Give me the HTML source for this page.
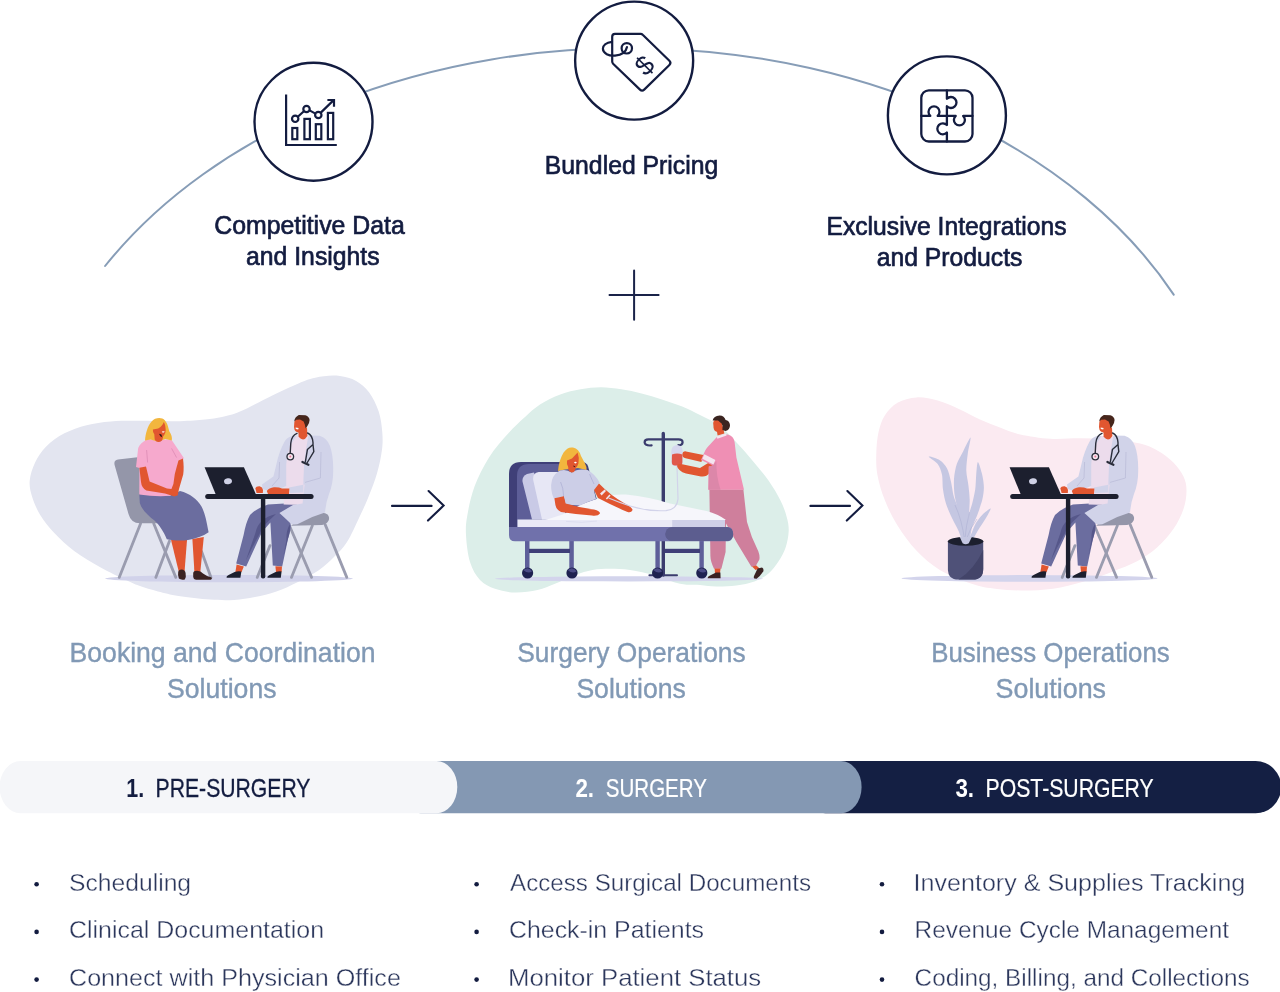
<!DOCTYPE html>
<html lang="en"><head><meta charset="utf-8"><title>Surgery workflow solutions</title>
<style>
html,body{margin:0;padding:0;background:#fff;}
body{width:1280px;height:992px;overflow:hidden;font-family:"Liberation Sans",sans-serif;}
svg{display:block;font-family:"Liberation Sans",sans-serif;will-change:transform;}
</style></head><body>
<svg width="1280" height="992" viewBox="0 0 1280 992">
<rect width="1280" height="992" fill="#fff"/>

<g id="top" fill="none" stroke-linecap="round" stroke-linejoin="round">
<path d="M105.1 266 A603.9 433.7 0 0 1 1173.7 294.6" stroke="#879db7" stroke-width="2"/>
<circle cx="313.5" cy="121.7" r="59" fill="#fff" stroke="#131c40" stroke-width="2.4"/>
<circle cx="634.15" cy="60.6" r="59" fill="#fff" stroke="#131c40" stroke-width="2.4"/>
<circle cx="946.9" cy="115.4" r="59" fill="#fff" stroke="#131c40" stroke-width="2.4"/>
<!-- chart icon -->
<g stroke="#131c40" stroke-width="2.2" stroke-linecap="butt" stroke-linejoin="miter">
<path d="M286.1 94.6 V145 H336.8"/>
<rect x="292.3" y="128" width="5" height="11.2"/>
<rect x="304.4" y="118.9" width="5.5" height="20.3"/>
<rect x="315.8" y="124.2" width="5.5" height="15"/>
<rect x="327.9" y="112.9" width="5.3" height="26.3"/>
<path d="M297.8 116.8 L303.9 111.2 M309.6 110.4 L315.4 113.6 M320.8 112.6 L333.4 100.4 M327.4 100 H334 V106.8"/>
<circle cx="295.2" cy="118.8" r="3.2"/>
<circle cx="306.5" cy="109" r="3.2"/>
<circle cx="318.3" cy="115" r="3.2"/>
</g>
<!-- price tag icon -->
<g stroke="#131c40" stroke-width="2.2">
<path d="M615 33.9 H640.6 a3 3 0 0 1 2.1 0.9 L669.4 60.8 a3 3 0 0 1 0 4.2 L644.2 89.6 a3 3 0 0 1 -4.2 0 L613.1 63.7 a3 3 0 0 1 -0.9 -2.1 V36.7 a2.8 2.8 0 0 1 2.8 -2.8 Z"/>
<circle cx="626.8" cy="48.3" r="5.2"/>
<path d="M612 41.8 C606 42.5 602.8 45.5 602.9 48.8 C603 53.5 609 56.2 615 55.6 C621 55 626 52 627 47"/>
</g>
<text x="0" y="0" font-size="27" fill="#131c40" text-anchor="middle" transform="translate(644.6 65.4) rotate(-45) translate(0 9.2)" stroke="none">$</text>
<!-- puzzle icon -->
<g stroke="#131c40" stroke-width="2.3">
<rect x="921.3" y="90.3" width="51.2" height="51.2" rx="7.5"/>
<path d="M946.9 90.3 V98.8 A5.5 5.5 0 1 1 946.9 106.2 V115.9 V125.1 A5.5 5.5 0 1 0 946.9 132.5 V141.5"/>
<path d="M921.3 115.9 H930.3 A5.5 5.5 0 1 1 937.7 115.9 H946.9 H955.7 A5.5 5.5 0 1 0 963.1 115.9 H972.5"/>
</g>
<!-- plus -->
<path d="M609.5 294.9 H658.6 M634.1 270.5 V319.7" stroke="#1a2349" stroke-width="2" stroke-linecap="round"/>
<!-- arrows -->
<g stroke="#131c40" stroke-width="2.1" stroke-linecap="round" stroke-linejoin="miter">
<path d="M392 505.9 H431.6 M428.6 491 L443.6 505.6 L428 520.6"/>
<path d="M810.4 505.9 H850 M847.4 491 L862.4 505.6 L846.8 520.6"/>
</g>
</g>

<g id="ill1">
<!-- blob -->
<path d="M29.7 480.7 C30.2 475.0 32.4 468.2 35.1 462.5 C37.9 456.8 41.3 451.3 46.2 446.4 C51.1 441.5 57.7 436.8 64.4 433.3 C71.1 429.8 78.9 427.2 86.6 425.2 C94.3 423.2 101.9 422.1 110.8 421.4 C119.7 420.7 128.5 420.8 140.0 420.8 C151.5 420.8 169.2 421.4 180.0 421.2 C190.8 421.0 198.0 420.3 205.0 419.6 C212.0 418.9 216.2 418.3 222.0 417.0 C227.8 415.7 231.6 415.2 240.0 411.6 C248.4 408.0 261.6 400.6 272.3 395.5 C283.1 390.4 295.9 384.2 304.5 381.0 C313.1 377.8 318.0 377.1 323.9 376.3 C329.8 375.5 334.6 375.3 340.0 376.1 C345.4 376.9 351.3 378.3 356.1 381.0 C360.9 383.7 365.2 387.2 369.0 392.3 C372.8 397.4 376.5 404.9 378.7 411.6 C380.9 418.3 381.8 426.2 382.3 432.6 C382.8 439.1 382.8 443.6 381.9 450.3 C381.0 457.0 379.4 465.1 377.1 472.9 C374.9 480.7 371.4 489.6 368.4 497.1 C365.4 504.6 362.6 510.5 359.0 518.0 C355.4 525.5 351.2 535.6 347.0 542.1 C342.8 548.6 338.7 552.3 334.0 557.0 C329.3 561.7 324.8 566.1 318.8 570.3 C312.8 574.5 305.1 578.5 298.0 582.0 C290.9 585.5 283.6 589.0 276.4 591.5 C269.2 594.0 262.1 595.6 255.0 597.0 C247.9 598.4 241.6 599.6 234.1 600.0 C226.6 600.4 219.2 600.3 210.0 599.6 C200.8 598.9 187.3 597.4 178.6 596.0 C169.9 594.6 164.6 593.2 158.0 591.5 C151.4 589.8 144.8 587.8 139.3 585.8 C133.8 583.8 131.3 582.6 124.9 579.5 C118.5 576.4 109.1 572.1 100.7 567.4 C92.3 562.7 82.2 557.0 74.5 551.3 C66.8 545.6 60.0 539.1 54.3 533.1 C48.6 527.1 43.9 521.0 40.2 515.0 C36.5 508.9 33.9 502.5 32.1 496.8 C30.4 491.1 29.2 486.4 29.7 480.7 Z" fill="#e3e5f0"/>
<!-- shadow -->
<ellipse cx="229" cy="578.6" rx="124" ry="3.6" fill="#d1d2ea"/>
<!-- chair (woman) -->
<g stroke="#9a9caf" stroke-width="2.8" stroke-linecap="round" fill="none">
<path d="M140.6 523.5 L119.2 577.4"/>
<path d="M153.7 523.5 L175.8 577.4"/>
<path d="M169.5 541 L155.8 577.4"/>
<path d="M201.6 551.5 L211 577.4"/>
</g>
<path d="M118 459.5 Q113.5 460 114.6 465 L128.5 514 Q131 523.3 140 523.3 L166 523.3 L150 480 L137.5 457.2 Z" fill="#9496a9"/>
<!-- woman legs -->
<path d="M170.8 539 L187 540 L184.6 571 L178.6 571 Z" fill="#e15630"/>
<path d="M192.4 539 L203.8 537 L200.3 572 L194.4 572 Z" fill="#e15630"/>
<path d="M178.2 572 Q178.5 569.6 181.5 569.4 Q185 569.4 185.6 573 Q186.4 577 184.8 579.4 Q181 580.2 178.9 578.6 Q177.6 575.5 178.2 572 Z" fill="#3a2222"/>
<path d="M193.2 573 Q193.5 570.8 197 570.8 Q201 570.8 203 573.4 Q207 576.4 211.6 577.6 Q212.6 579.4 210.6 579.8 L196 579.8 Q193.4 579.4 193.2 577 Z" fill="#3a2222"/>
<!-- skirt -->
<path d="M139.3 494 L170 495.5 L180 491 C190 493.5 197 499 201.5 506.5 C205 513 206.5 521 208.6 532.2 C203 536 196 538.8 188 540 C181 541 173 540.4 166.8 539.2 C164 532 159 524.5 154.5 520.5 C148 515.5 142 510 139.8 503 Z" fill="#6b6d9f"/>
<!-- woman shirt -->
<path d="M146 440 C143 441.5 139.5 444.5 138.2 448 L136 467 L139.4 468 L139.3 494.4 Q155 497 170.5 495.8 L176 480 L178 461 L184 458.2 L172 440.4 Q165 438.4 158.5 441.5 Q152 438.6 146 440 Z" fill="#f6a9cd"/>
<path d="M146.6 450 L147.6 462.5 M171.6 448.4 L176.6 457.6" stroke="#d987b0" stroke-width="0.7" fill="none"/>
<!-- woman arms -->
<path d="M139.4 467.8 L146 466.6 L149.6 481.6 L167 488.6 L176 489.6 L178 494.6 L174.6 496.6 L165 493.6 L146.4 490.4 Q141.6 488 141 482 Z" fill="#e15630"/>
<path d="M178.4 460.4 L183 458.6 Q184.2 468 183.2 474.4 L179 489 L177.6 495.4 L173 495.8 L170.4 491.4 L173.4 484 L174.8 474 Z" fill="#e15630"/>
<!-- hair -->
<path d="M145 440.4 C145.6 433 147.6 426 151.6 421.4 C155 417.6 161.6 416.8 165 420.4 C168 424 168.4 428.6 169.4 431.4 C171.4 434.4 172.4 437 171.8 440.6 L165.4 439 L158 441.8 L150.6 439.4 Z" fill="#f2b63e"/>
<!-- face -->
<path d="M152.9 429.6 L158.2 428.6 Q161.4 426.6 162.6 424.6 L163.9 421.9 Q165.2 424.6 165.4 427 Q166 430.6 165.4 432.4 Q164.6 434.6 163.2 436.2 Q163 438.6 162 440.4 Q160.4 442 158.2 442 Q155.6 441.4 154.7 439.4 L154.3 434.3 Q152.6 432.6 152.9 429.6 Z" fill="#e15630"/>
<path d="M159 433.8 L161.4 434.6 L162.2 437.2 L160.4 436.2 Z" fill="#241616"/>
<path d="M161.8 431.4 L164.6 431.2 L164 432.6 L162.4 432.6 Z" fill="#fff"/>
<g id="doc">
<!-- doctor stool -->
<g stroke="#9a9caf" stroke-width="2.8" stroke-linecap="round" fill="none">
<path d="M289.6 526 L311.6 577.4"/>
<path d="M312.4 525.4 L291.4 577.4"/>
<path d="M325.2 524.6 L346.8 577.4"/>
<path d="M270 545.6 L257.2 577.4"/>
</g>
<path d="M291 525.8 Q300 518 316 513.6 Q324 511.4 327.6 514.4 Q330.4 518 328 521.6 Q326.4 524.6 322 525 Z" fill="#9496a9"/>
<!-- doctor pants -->
<path d="M284.6 503.4 L268 504.6 Q256 508.6 250 515 Q246 522 243.6 535 L236.2 563.6 L246.2 566.4 L256 545 L262 532 L270.4 522.6 L272.8 565.6 L282.2 566.4 L288 539 Q291.6 528 290.4 523.4 L302 512 L296 503 Z" fill="#6b6d9f"/>
<path d="M262 521 Q257 525 255.4 533 L246 560 L252 548 L259.6 534 Q262.4 527 268.6 521 L276 514 Q267 516 262 521 Z" fill="#56578a"/>
<path d="M290 524 Q286 530 286.4 540 L283.4 556 L287.6 540 Q291 529 290 524 Z" fill="#56578a"/>
<!-- socks & shoes -->
<path d="M236.6 564.6 L243.8 566.4 L241.6 572 L235.4 572 Z" fill="#e15630"/>
<path d="M275.4 566.2 L282 566.4 L281.6 572 L276 572 Z" fill="#e15630"/>
<path d="M226.6 577.8 Q226 576.2 228.6 575 L234.6 572 Q238 571 241.4 571.6 L240.4 577.8 Z" fill="#1c1f2e"/>
<path d="M267.4 577.8 Q267 576.2 269.6 575 L275.6 572 Q279 571 281.6 571.4 L280.8 577.8 Z" fill="#1c1f2e"/>
<!-- table leg -->
<rect x="260.9" y="496" width="4.4" height="82.4" rx="2" fill="#1c1f2e"/>
<!-- doctor shirt -->
<path d="M295 436 L310 436.6 L306 484 L303 505 L283.6 504.4 L285.6 484 L285.8 465 Q286.6 452 290.6 444 Z" fill="#ecdcec"/>
<!-- coat -->
<path d="M293.6 435.6 Q287 437 284.6 441.6 Q279 452 276.6 463.6 L273.4 476.6 L262 484.6 L262.6 489 L272 492 L286.2 486 L286.2 465 Q287 452 291.2 444 L296.6 435.8 Z" fill="#d1d3e9"/>
<path d="M308.4 435.4 L319.6 435.8 Q327 438 330 446 Q333.4 456 333.2 470 Q333.4 483 329 494 Q326 502 325 512.6 Q312 516.4 300 523 Q295 526 290.6 523.4 Q286 519 279.4 513 L293 505 L302.6 503.6 L304.6 484.6 L289 487.4 L290 493 L303.4 492.6 L303.4 481 L304 466 L305.6 452 Z" fill="#d1d3e9"/>
<path d="M279.6 462 L279 478 L272 486" stroke="#b3b6d3" stroke-width="0.6" fill="none"/>
<path d="M321 452 L320.4 478 L305 482.4" stroke="#b3b6d3" stroke-width="0.6" fill="none"/>
<!-- neck/face/hair -->
<path d="M298.4 430 L307 427.6 L307.4 436 Q303.6 442.4 298.6 436.8 Z" fill="#e15630"/>
<path d="M294.2 424 Q294 419.6 298 418.4 L305 419.6 L306.4 426 Q306 431.6 301.6 432.6 Q296.4 433 294.6 430 Q293.6 427 294.2 424 Z" fill="#e15630"/>
<path d="M294.2 421.4 Q294.8 417 298.8 415 L305.4 415.2 Q309.4 416.6 309.6 420 Q309.4 423.6 307.4 426 L305.6 428.4 L304.8 424.6 L303.6 421.6 L300 419.6 L296.4 419.8 Z" fill="#46261c"/>
<path d="M295.6 427.6 L298.6 428 L298.2 429.4 L295.8 429 Z" fill="#fff"/>
<!-- stethoscope -->
<g stroke="#2a2d3a" fill="none" stroke-width="1.4" stroke-linecap="round" stroke-linejoin="round">
<path d="M297 433.4 Q291.6 435.4 290.8 443 L290.2 453"/>
<path d="M307.6 433 Q312.4 435 313 442.6 L313 444.6 L307.4 449.6 L305.4 461.6 M313 444.6 L313.8 451.6 L307 463"/>
<path d="M302.4 462 L308.4 464.8" stroke-width="2.2"/>
</g>
<circle cx="290.3" cy="456.6" r="3.3" fill="#f6e6ee" stroke="#2a2d3a" stroke-width="1.3"/>
<circle cx="290.3" cy="456.6" r="1" fill="#e9799a"/>
<!-- hands -->
<path d="M255.4 488.6 Q256 486 259.6 486.2 Q262.6 487 263 490 L262.8 493 L256.6 493 Z" fill="#e15630"/>
<path d="M266.8 491 Q269 487.6 274 487.2 Q279 487 282 488.4 L289.4 488.6 L289 494 L268 494 Z" fill="#e15630"/>
<!-- laptop -->
<path d="M204.6 467.2 L243.9 467.2 L256.2 495 L216 495 Z" fill="#1c1f2e"/>
<ellipse cx="228" cy="481.2" rx="4" ry="3" fill="#cfd1e6" transform="rotate(-8 228 481.2)"/>
<!-- table top -->
<rect x="205.2" y="494" width="108.4" height="5" rx="2.5" fill="#1c1f2e"/>
</g>
</g>

<g id="ill2">
<path d="M466.0 535.0 C465.6 527.2 465.9 523.6 467.3 515.5 C468.7 507.4 470.9 496.2 474.5 486.5 C478.1 476.8 483.4 466.3 489.0 457.4 C494.6 448.5 502.4 439.9 508.4 433.2 C514.4 426.5 519.7 421.8 525.0 417.0 C530.3 412.2 534.1 408.3 540.0 404.5 C545.9 400.7 553.5 396.9 560.3 394.4 C567.1 391.9 573.8 390.5 580.6 389.3 C587.4 388.1 594.1 387.3 600.9 387.3 C607.7 387.3 614.5 388.3 621.3 389.3 C628.1 390.3 634.8 391.7 641.6 393.4 C648.4 395.1 655.1 397.3 661.9 399.5 C668.7 401.7 675.9 404.0 682.2 406.6 C688.6 409.2 693.7 411.8 700.0 415.1 C706.3 418.4 714.2 421.7 720.2 426.2 C726.2 430.7 730.9 436.6 736.3 442.3 C741.7 448.0 747.0 454.1 752.4 460.5 C757.8 466.9 763.8 473.9 768.5 480.6 C773.2 487.3 777.6 494.8 780.6 500.8 C783.6 506.9 785.4 511.9 786.7 516.9 C788.1 521.9 788.9 526.0 788.7 531.0 C788.5 536.0 787.4 542.2 785.7 547.2 C784.0 552.2 781.5 556.9 778.6 561.3 C775.7 565.7 772.5 570.0 768.5 573.4 C764.5 576.8 759.8 579.5 754.4 581.5 C749.0 583.5 742.7 584.7 736.3 585.5 C729.9 586.3 722.1 586.6 716.1 586.5 C710.1 586.4 706.0 585.5 700.0 585.0 C694.0 584.5 687.5 585.4 680.0 583.8 C672.5 582.2 663.3 577.8 655.0 575.5 C646.7 573.2 637.5 571.1 630.0 570.0 C622.5 568.9 616.2 568.8 610.0 568.8 C603.8 568.8 598.3 569.0 592.5 570.0 C586.7 571.0 581.2 572.7 575.0 575.0 C568.8 577.3 561.2 581.3 555.0 583.8 C548.8 586.3 544.2 588.5 537.5 590.0 C530.8 591.5 522.1 592.7 515.0 592.5 C507.9 592.3 500.8 590.9 495.0 588.8 C489.2 586.7 484.2 584.5 480.0 580.0 C475.8 575.5 472.3 569.5 470.0 562.0 C467.7 554.5 466.4 542.8 466.0 535.0 Z" fill="#dceee9"/>
<ellipse cx="629" cy="578.8" rx="134" ry="2.6" fill="#d3d4ec"/>
<!-- IV pole -->
<g stroke="#3b3c6e" fill="none" stroke-linecap="round">
<path d="M663.3 433.4 V575" stroke-width="3.4"/>
<path d="M651.6 445.4 Q645 446 644.6 442.4 Q644.6 439.4 648.4 439.4 H678.6 Q682.6 439.4 682.6 442.4 Q682.2 445.6 678.4 445.2" stroke-width="2.2"/>
<path d="M649.4 575.2 H677" stroke-width="2"/>
</g>
<!-- bed legs -->
<g fill="#5e5f9a">
<rect x="525" y="540" width="4.5" height="29"/><rect x="569.3" y="540" width="4.5" height="29"/>
<rect x="655.4" y="540" width="4.4" height="29"/><rect x="699.4" y="540" width="4.4" height="29"/>
</g>
<g fill="#3f3f78">
<rect x="529" y="548.8" width="41" height="4.2"/><rect x="665" y="548.8" width="35" height="4.2"/>
</g>
<g fill="#1e2150">
<circle cx="527.6" cy="573" r="5.6"/><circle cx="572" cy="573" r="5.6"/><circle cx="657.6" cy="573" r="5.6"/><circle cx="701.8" cy="573" r="5.6"/>
</g>
<g fill="#4a4b85">
<path d="M523.5 570.2 A5 5 0 0 1 532 571.4 Q528 574 523.5 570.2 Z"/><path d="M567.9 570.2 A5 5 0 0 1 576.4 571.4 Q572.4 574 567.9 570.2 Z"/><path d="M653.5 570.2 A5 5 0 0 1 662 571.4 Q658 574 653.5 570.2 Z"/><path d="M697.7 570.2 A5 5 0 0 1 706.2 571.4 Q702.2 574 697.7 570.2 Z"/>
</g>
<!-- nurse legs (behind bed) -->
<path d="M709.4 489.6 L743.4 489.6 L747 522 Q751 537 758.4 551.6 Q760 556 759.4 559.6 L755.6 566.2 L751.4 566.8 L737 543 L726 523.4 L725.6 552 L721.4 568.8 L714 568.8 Q710.4 561 710.4 556 Z" fill="#cf7f9c"/>
<path d="M714.6 568.4 L720.6 568.4 L720 573 L715 573 Z" fill="#e15630"/>
<path d="M752 566.4 L756.4 565.4 L759.6 568.4 L755.6 570 Z" fill="#e15630"/>
<path d="M707.6 578.2 Q707.4 576.4 710 575.4 L716 572.4 L720.4 572.4 L720.6 578.2 Z" fill="#3a2222"/>
<path d="M754.4 578.6 Q753.4 578 754 576 L757.6 568.6 L762 567.4 Q764.2 568.6 763.2 571.6 Q760.4 576 756.6 578.8 Z" fill="#3a2222"/>
<!-- headboard -->
<path d="M509 474 Q509 462 521 462 H582 Q586 462 588 466 L604 527 H509 Z" fill="#3f3f78"/>
<path d="M517 476 Q517 464 529 464 H581 Q584.6 464 586.4 467.4 L601 527 H517 Z" fill="#5d5e98"/>
<!-- frame -->
<path d="M509 526.9 H728 Q733 527 733 534 Q733 541.3 728 541.3 H515 Q509 541.3 509 535 Z" fill="#7071ab"/>
<rect x="665.4" y="527.2" width="67.8" height="13.8" rx="6.9" fill="#5c5d8f"/>
<!-- pillows -->
<path d="M522.6 482 Q521.6 476.6 527 474 L534 472.4 L548 519.4 L532 519.4 Z" fill="#c9cae6"/>
<path d="M533.2 480 Q532.4 473 538.6 472 H560 L566 519.4 H542 Z" fill="#e7e7f5"/>
<!-- mattress -->
<path d="M517.5 519.4 H725 V526.9 H517.5 Z" fill="#e9e9f6"/>
<path d="M672.2 519.4 H725 V526.9 H672.2 Z" fill="#cfd0e8"/>
<!-- frame pill over legs -->
<rect x="665.4" y="527.2" width="67.8" height="13.8" rx="6.9" fill="#5c5d8f"/>
<!-- blanket -->
<path d="M545 520 Q554 517.6 562.5 514.6 Q572 510 580 505 Q588 501.6 595 499.4 Q604 496.4 612.5 495 Q620 494 626 494.6 Q650 497 670 503.6 L706.6 511 Q718 514 726 520 Z" fill="#f6f6fb"/>
<path d="M566 521.4 Q582 523.4 597 521" stroke="#d9daee" stroke-width="0.8" fill="none"/>
<!-- hair -->
<path d="M558 471 Q559 460 563.6 452.6 Q567.6 446.6 573 447.6 Q579 449 581 456 L585 463.6 Q587 467 586.4 470 L578 468 L565 469.6 Z" fill="#f2b63e"/>
<!-- gown -->
<path d="M560 470.6 Q566 468.6 571.6 472.6 Q578 468 587.6 470 Q595 474 599.6 482.6 L594 490.6 L596 499 Q588 501.6 580 505.4 L565.4 504.4 L563.6 496.4 L553.8 498.4 Q549.6 489 552 480 Q554 473.6 560 470.6 Z" fill="#cccee7"/>
<path d="M560.6 482 Q563.4 488 563.6 496 M589.6 474 Q591.6 479 594 484" stroke="#abaed2" stroke-width="0.7" fill="none"/>
<!-- face -->
<path d="M567 460.4 L572 458.6 L577.6 452.6 Q579.6 458 578.4 463.6 Q577.4 467 575.4 468.4 Q575.4 472 571.6 472.6 Q567.8 471.6 568.2 467 Q566.4 464 567 460.4 Z" fill="#e15630"/>
<ellipse cx="575.4" cy="462.6" rx="1.3" ry="0.8" fill="#fff"/>
<path d="M573 465.4 L575.4 466.4 L574.2 467.2 Z" fill="#2a1a1a"/>
<!-- patient arms -->
<path d="M554.4 498.2 L563.8 496.2 L565.6 503.6 Q580 508 594 509.6 Q600 511 600 513.4 Q598 516.4 592 515.6 Q575 514 561 512 Q556.4 510 555.4 505 Z" fill="#e15630"/>
<path d="M594 490 L599 483.6 Q611 496 624 503 Q632 507 632.6 510 Q631 513.4 627 511.8 Q612 505.4 598 498 Z" fill="#e15630"/>
<path d="M600 493.6 L604.6 489.4 L606 491 L601.6 495.4 Z M605.8 498.6 L609.4 494.6 L610.6 495.6 L607 499.6 Z" fill="#f1e6ee"/>
<!-- IV bag & tube -->
<path d="M677 466 Q677.6 486 678 499 Q677 509.6 666 510.6 Q648 511.6 630 506 Q618 502 608.6 498" stroke="#d2d3ea" stroke-width="1.2" fill="none"/>
<path d="M673 446.6 Q677 443.6 681 446.6 Q683 449 682.6 454 L682.6 462 Q682.6 466 679 466 H675 Q671.4 466 671.4 462 L671.4 454 Q671 449 673 446.6 Z" fill="#d6d7ee"/>
<path d="M672 454.4 Q677 452.6 682.4 454.4 L682.4 462 Q682.4 465.6 679 465.6 H675 Q671.8 465.6 671.8 462 Z" fill="#e0574a"/>
<!-- nurse arms -->
<path d="M682.4 454.4 Q682.6 451 686 451.4 L703.4 455 L701.4 462 L685.6 458.2 Q682.2 457.6 682.4 454.4 Z" fill="#e15630"/>
<path d="M677 466 Q677.4 463.6 681 464 L700 468 L710.6 461.4 L714.4 465 L709.6 473 Q706 477.4 701 476.4 L686 473.6 Q678 471 677 466 Z" fill="#e15630"/>
<!-- nurse top -->
<path d="M716.4 437.6 Q721 434 727.6 434.6 Q733.6 436 734.6 442 L736.4 457.6 L744 489.8 H708.4 L708.8 466.4 L712.8 465.6 L701 460 L703.4 454.6 Q706 448 710 444.6 Z" fill="#ef8fb4"/>
<path d="M708.8 466.4 L712.8 465.6 L716.4 461 Q716 476 720.6 489.8 H708.4 Z" fill="#dc87a9"/>
<path d="M704.4 454.2 L715.4 460 L713.4 464.6 L702.4 458.8 Z" fill="#f4e6f0"/>
<path d="M716.8 436.6 L726 433.6 L726.6 435.6 L717.4 438.8 Z" fill="#f4e6f0"/>
<!-- nurse head -->
<path d="M716.4 428 L722.6 426 L724.4 433.6 L717.6 435.6 Z" fill="#e15630"/>
<path d="M713.2 423 Q713.4 420 717 419.6 L721.6 421 L722.6 428 Q721.6 432 717.6 432 Q714 431.6 713.6 428 Z" fill="#e15630"/>
<path d="M712.6 420.4 Q713.6 416 719.6 415.4 Q724.4 415.6 725.6 420 Q729.4 420.6 730 425 Q730 430 725.6 431 L722.4 430 Q723.4 426 721.6 423.6 L718 420.4 Z" fill="#3a2420"/>
</g>
<g id="ill3">
<path d="M876.3 453.5 C876.5 446.4 877.1 438.7 878.5 432.3 C879.9 425.9 881.6 420.3 884.8 415.4 C888.0 410.5 892.2 405.7 897.5 402.7 C902.8 399.7 909.9 397.8 916.6 397.4 C923.3 397.0 930.7 398.7 937.7 400.6 C944.8 402.5 951.9 405.8 958.9 409.0 C965.9 412.2 973.0 416.4 980.0 419.6 C987.0 422.8 994.5 425.6 1001.2 428.1 C1007.9 430.6 1012.0 432.7 1020.2 434.5 C1028.4 436.3 1040.3 438.2 1050.4 438.8 C1060.5 439.4 1070.7 438.2 1080.6 438.3 C1090.5 438.4 1100.2 438.7 1110.0 439.5 C1119.8 440.3 1131.2 441.5 1139.1 443.3 C1147.0 445.1 1151.6 447.2 1157.3 450.4 C1163.0 453.6 1169.0 458.1 1173.4 462.5 C1177.8 466.9 1181.3 471.9 1183.5 476.6 C1185.7 481.3 1186.5 485.3 1186.5 490.7 C1186.5 496.1 1185.7 502.5 1183.5 508.9 C1181.3 515.3 1177.8 522.6 1173.4 529.0 C1169.0 535.4 1163.3 541.8 1157.3 547.2 C1151.2 552.6 1144.5 557.3 1137.1 561.3 C1129.7 565.3 1120.8 568.4 1112.9 571.4 C1105.1 574.4 1098.7 576.8 1090.0 579.5 C1081.3 582.2 1070.5 585.7 1060.5 587.5 C1050.5 589.3 1040.8 590.3 1030.2 590.5 C1019.6 590.7 1006.8 590.0 997.0 588.9 C987.2 587.8 981.1 586.9 971.6 583.7 C962.1 580.5 949.0 575.4 939.8 569.9 C930.6 564.4 923.6 558.2 916.6 550.8 C909.6 543.4 902.8 533.8 897.5 525.4 C892.2 517.0 888.1 508.6 884.8 500.1 C881.4 491.7 878.8 482.5 877.4 474.7 C876.0 466.9 876.1 460.6 876.3 453.5 Z" fill="#fbeaf1"/>
<ellipse cx="1029.5" cy="578.4" rx="128" ry="3.3" fill="#d3d4ec"/>
<!-- plant -->
<g fill="#c5c7e2">
<path d="M928.8 456.7 C928.5 457.2 935.9 461.5 937.7 464.1 C939.6 466.6 941.2 471.0 942.0 474.7 C942.7 478.3 942.4 485.2 943.0 489.5 C943.6 493.7 944.8 500.1 946.2 504.3 C947.6 508.5 950.7 515.2 952.5 519.1 C954.4 523.0 957.4 528.4 958.9 531.8 C960.4 535.2 961.9 541.2 963.1 542.8 C964.3 544.4 967.0 545.3 967.4 542.8 C967.7 540.3 966.5 529.6 965.7 525.4 C964.8 521.3 962.7 516.8 961.4 513.8 C960.2 510.8 957.9 506.9 956.8 504.3 C955.7 501.7 954.4 499.1 953.6 495.8 C952.8 492.5 951.8 484.9 950.8 481.0 C949.9 477.1 948.8 471.7 947.2 468.7 C945.7 465.8 942.5 462.0 939.8 460.3 C937.2 458.5 929.1 456.1 928.8 456.7 Z"/>
<path d="M970.5 437.6 C969.9 437.3 965.1 447.6 963.1 451.4 C961.2 455.2 958.1 460.1 956.8 464.1 C955.5 468.0 954.3 474.4 954.0 478.9 C953.7 483.4 954.0 491.0 954.7 495.8 C955.4 500.7 957.7 508.2 958.9 512.8 C960.0 517.3 961.9 523.3 962.7 527.6 C963.5 531.9 963.5 540.6 964.2 542.8 C964.9 545.0 967.3 545.0 967.8 542.8 C968.3 540.6 967.6 531.3 967.8 527.6 C967.9 523.9 968.6 520.9 968.8 517.0 C969.1 513.1 969.7 504.6 969.7 500.1 C969.6 495.5 968.9 489.5 968.4 485.2 C967.9 481.0 966.4 475.0 966.3 470.4 C966.2 465.9 967.2 458.2 967.8 453.5 C968.4 448.8 971.2 437.9 970.5 437.6 Z"/>
<path d="M977.9 462.0 C977.1 462.0 976.6 470.7 976.2 474.7 C975.9 478.6 975.8 485.2 975.2 489.5 C974.6 493.7 973.0 500.4 972.0 504.3 C971.0 508.2 969.3 511.5 968.4 517.0 C967.5 522.5 965.6 539.1 965.7 542.8 C965.8 546.5 968.1 545.0 969.0 542.8 C970.0 540.6 970.8 531.6 972.0 527.6 C973.2 523.6 975.9 518.8 977.3 514.9 C978.8 510.9 981.2 504.0 982.2 500.1 C983.1 496.1 983.9 491.0 983.9 487.4 C983.9 483.7 983.0 478.3 982.2 474.7 C981.3 471.0 978.8 462.0 977.9 462.0 Z"/>
<path d="M990.6 508.5 C990.2 507.9 984.3 512.8 982.2 514.9 C980.1 517.0 977.4 520.6 975.8 523.3 C974.2 526.1 972.5 531.1 971.2 533.9 C969.8 536.7 966.5 541.5 966.3 542.8 C966.1 544.1 968.5 543.4 969.5 542.8 C970.5 542.2 972.0 540.4 973.3 538.6 C974.6 536.7 976.6 532.5 978.4 529.7 C980.1 526.9 983.6 522.1 985.3 519.1 C987.1 516.1 991.1 509.1 990.6 508.5 Z"/>
</g>
<path d="M955 505 Q962 520 964.6 540 M964.8 540 Q966 525 969.6 512 M966 540 Q970 528 977 519" stroke="#a9acd0" stroke-width="0.5" fill="none"/>
<path d="M947.9 541.3 L983.2 541.3 L983.2 569 Q983.2 579.6 972.6 579.6 L958.4 579.6 Q947.9 579.6 947.9 569 Z" fill="#4f5178"/>
<path d="M983.2 550 L983.2 569 Q983.2 579.6 972.6 579.6 L958.4 579.6 Q974 570 983.2 550 Z" fill="#434469"/>
<ellipse cx="965.6" cy="541.3" rx="17.7" ry="4.4" fill="#1c1f2e"/>
<path d="M959.8 537 L971.8 537 L968.8 543.2 Q965.6 545.2 962.6 543.2 Z" fill="#c5c7e2"/>
<use href="#doc" transform="translate(805 0)"/>
</g>
<g id="bar">
<rect x="800" y="761" width="481.2" height="52.2" rx="25.6" ry="26.1" fill="#141f43"/>
<rect x="400" y="761" width="461.6" height="52.2" rx="20.6" ry="26.1" fill="#8498b3"/>
<rect x="-0.4" y="761" width="457.7" height="52.2" rx="20.8" ry="26.1" fill="#f5f6f9"/>
</g>

<g id="labels">
<text x="214.20" y="234" font-size="26.5" fill="#131c40" font-weight="normal" textLength="190.61" lengthAdjust="spacingAndGlyphs" stroke="#131c40" stroke-width="0.7">Competitive Data</text>
<text x="246.00" y="265.3" font-size="26.5" fill="#131c40" font-weight="normal" textLength="133.61" lengthAdjust="spacingAndGlyphs" stroke="#131c40" stroke-width="0.7">and Insights</text>
<text x="544.78" y="173.6" font-size="26.5" fill="#131c40" font-weight="normal" textLength="173.54" lengthAdjust="spacingAndGlyphs" stroke="#131c40" stroke-width="0.7">Bundled Pricing</text>
<text x="826.49" y="235" font-size="26.5" fill="#131c40" font-weight="normal" textLength="240.03" lengthAdjust="spacingAndGlyphs" stroke="#131c40" stroke-width="0.7">Exclusive Integrations</text>
<text x="876.78" y="265.5" font-size="26.5" fill="#131c40" font-weight="normal" textLength="145.64" lengthAdjust="spacingAndGlyphs" stroke="#131c40" stroke-width="0.7">and Products</text>
<text x="69.59" y="661.5" font-size="28" fill="#8199b5" font-weight="normal" textLength="305.92" lengthAdjust="spacingAndGlyphs" stroke="#8199b5" stroke-width="0.4">Booking and Coordination</text>
<text x="167.07" y="698.2" font-size="28" fill="#8199b5" font-weight="normal" textLength="109.45" lengthAdjust="spacingAndGlyphs" stroke="#8199b5" stroke-width="0.4">Solutions</text>
<text x="517.29" y="661.5" font-size="28" fill="#8199b5" font-weight="normal" textLength="228.32" lengthAdjust="spacingAndGlyphs" stroke="#8199b5" stroke-width="0.4">Surgery Operations</text>
<text x="576.38" y="698.2" font-size="28" fill="#8199b5" font-weight="normal" textLength="109.45" lengthAdjust="spacingAndGlyphs" stroke="#8199b5" stroke-width="0.4">Solutions</text>
<text x="931.18" y="661.5" font-size="28" fill="#8199b5" font-weight="normal" textLength="238.63" lengthAdjust="spacingAndGlyphs" stroke="#8199b5" stroke-width="0.4">Business Operations</text>
<text x="995.57" y="698.2" font-size="28" fill="#8199b5" font-weight="normal" textLength="110.47" lengthAdjust="spacingAndGlyphs" stroke="#8199b5" stroke-width="0.4">Solutions</text>
<text x="126.20" y="797.2" font-size="25" fill="#131c40" font-weight="bold" textLength="17.94" lengthAdjust="spacingAndGlyphs">1.</text>
<text x="155.58" y="797.2" font-size="25" fill="#131c40" font-weight="normal" textLength="154.82" lengthAdjust="spacingAndGlyphs" stroke="#131c40" stroke-width="0.3">PRE-SURGERY</text>
<text x="575.46" y="797.2" font-size="25" fill="#fff" font-weight="bold" textLength="18.63" lengthAdjust="spacingAndGlyphs">2.</text>
<text x="605.78" y="797.2" font-size="25" fill="#fff" font-weight="normal" textLength="101.22" lengthAdjust="spacingAndGlyphs" stroke="#fff" stroke-width="0.2">SURGERY</text>
<text x="955.46" y="797.2" font-size="25" fill="#fff" font-weight="bold" textLength="18.63" lengthAdjust="spacingAndGlyphs">3.</text>
<text x="985.58" y="797.2" font-size="25" fill="#fff" font-weight="normal" textLength="168.13" lengthAdjust="spacingAndGlyphs" stroke="#fff" stroke-width="0.2">POST-SURGERY</text>
<text x="68.98" y="890.6" font-size="24.4" fill="#2c375c" font-weight="normal" textLength="122.14" lengthAdjust="spacingAndGlyphs" stroke="#fff" stroke-width="0.35">Scheduling</text>
<text x="68.99" y="938.2" font-size="24.4" fill="#2c375c" font-weight="normal" textLength="255.02" lengthAdjust="spacingAndGlyphs" stroke="#fff" stroke-width="0.35">Clinical Documentation</text>
<text x="68.99" y="985.9" font-size="24.4" fill="#2c375c" font-weight="normal" textLength="331.92" lengthAdjust="spacingAndGlyphs" stroke="#fff" stroke-width="0.35">Connect with Physician Office</text>
<text x="510.00" y="890.6" font-size="24.4" fill="#2c375c" font-weight="normal" textLength="301.00" lengthAdjust="spacingAndGlyphs" stroke="#fff" stroke-width="0.35">Access Surgical Documents</text>
<text x="508.99" y="938.2" font-size="24.4" fill="#2c375c" font-weight="normal" textLength="195.02" lengthAdjust="spacingAndGlyphs" stroke="#fff" stroke-width="0.35">Check-in Patients</text>
<text x="507.99" y="985.9" font-size="24.4" fill="#2c375c" font-weight="normal" textLength="253.23" lengthAdjust="spacingAndGlyphs" stroke="#fff" stroke-width="0.35">Monitor Patient Status</text>
<text x="913.58" y="890.6" font-size="24.4" fill="#2c375c" font-weight="normal" textLength="331.73" lengthAdjust="spacingAndGlyphs" stroke="#fff" stroke-width="0.35">Inventory &amp; Supplies Tracking</text>
<text x="914.59" y="938.2" font-size="24.4" fill="#2c375c" font-weight="normal" textLength="314.41" lengthAdjust="spacingAndGlyphs" stroke="#fff" stroke-width="0.35">Revenue Cycle Management</text>
<text x="914.59" y="985.9" font-size="24.4" fill="#2c375c" font-weight="normal" textLength="335.02" lengthAdjust="spacingAndGlyphs" stroke="#fff" stroke-width="0.35">Coding, Billing, and Collections</text>
</g>
<g id="bullets">
<circle cx="36.6" cy="884.3000000000001" r="2.3" fill="#131c40"/>
<circle cx="36.6" cy="931.9000000000001" r="2.3" fill="#131c40"/>
<circle cx="36.6" cy="979.6" r="2.3" fill="#131c40"/>
<circle cx="476.6" cy="884.3000000000001" r="2.3" fill="#131c40"/>
<circle cx="476.6" cy="931.9000000000001" r="2.3" fill="#131c40"/>
<circle cx="476.6" cy="979.6" r="2.3" fill="#131c40"/>
<circle cx="882" cy="884.3000000000001" r="2.3" fill="#131c40"/>
<circle cx="882" cy="931.9000000000001" r="2.3" fill="#131c40"/>
<circle cx="882" cy="979.6" r="2.3" fill="#131c40"/>
</g>
</svg></body></html>
